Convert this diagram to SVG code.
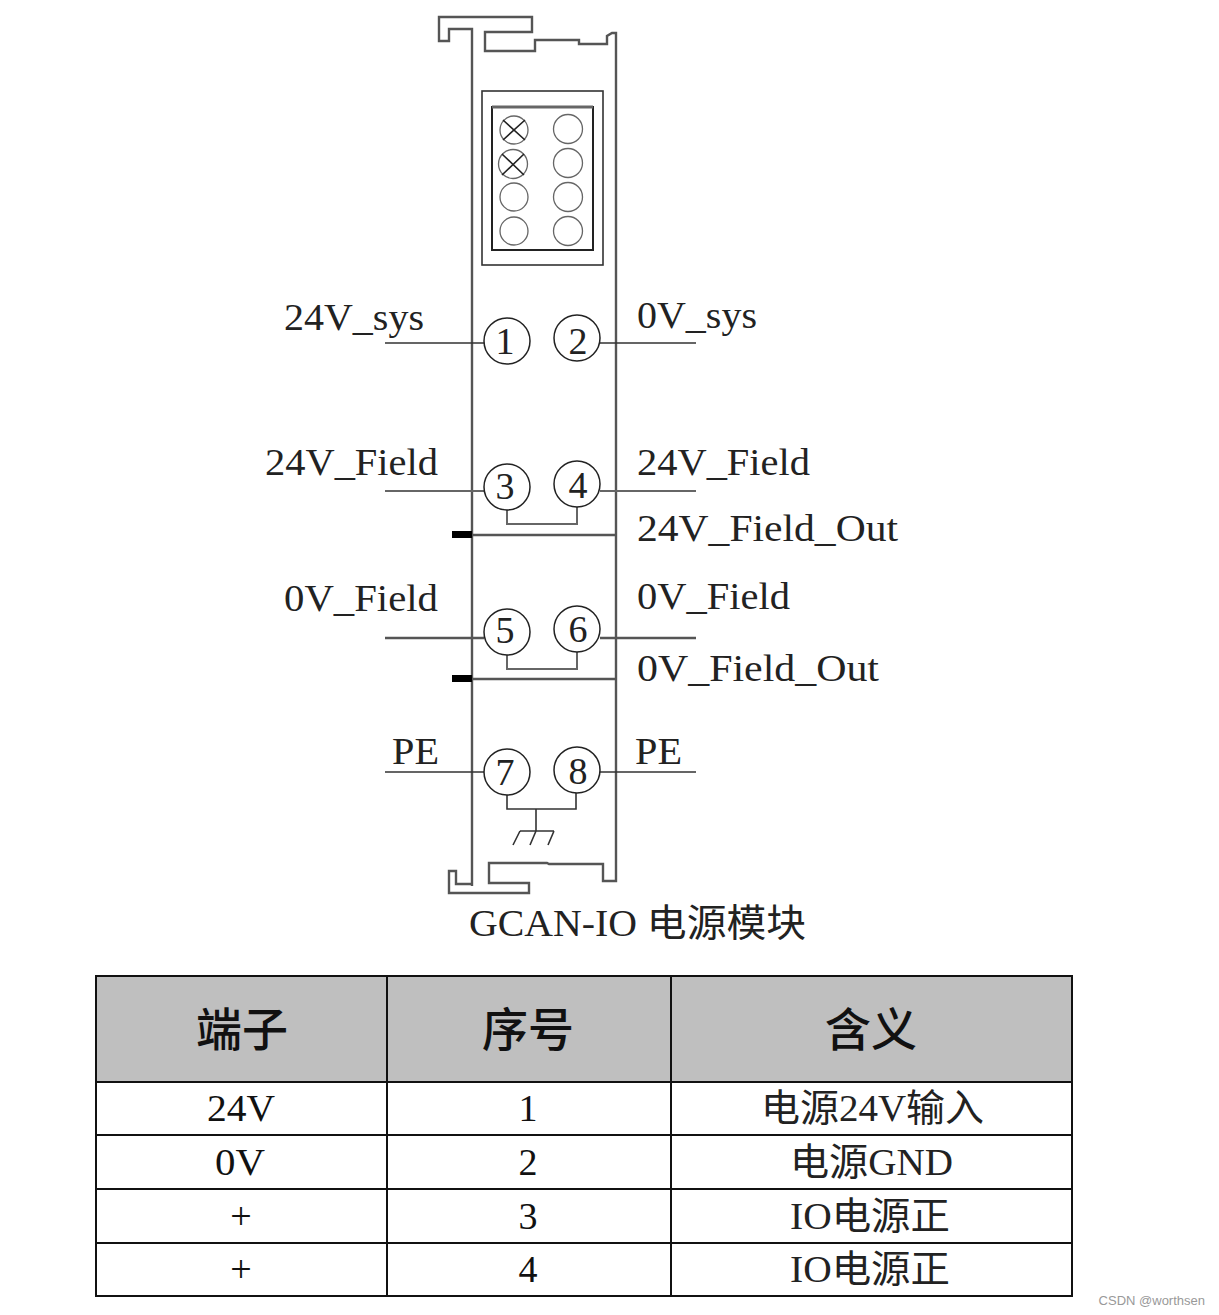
<svg xmlns="http://www.w3.org/2000/svg" width="1219" height="1315" viewBox="0 0 1219 1315">
<style>
.l{fill:none;stroke:#333;stroke-width:1.6}
.m{fill:none;stroke:#666;stroke-width:2}
.g{fill:none;stroke:#555;stroke-width:2.4}
.k{fill:none;stroke:#222;stroke-width:1.6}
.led{fill:none;stroke:#666;stroke-width:1.3}
.pin{fill:#fff;stroke:#222;stroke-width:1.5}
.t{font-family:"Liberation Serif","Noto Sans CJK SC",serif;fill:#222}
.lab{font-size:38px}
.num{font-size:38px;text-anchor:middle}
.c{font-size:38px;text-anchor:middle;fill:#111}
.h{font-size:46px;font-weight:500;text-anchor:middle;fill:#111;font-family:"Noto Sans CJK SC",sans-serif}
</style>
<rect width="1219" height="1315" fill="#fff"/>
<g id="module-body">
<path class="g" d="M472 886V29H449V41H439V17H532V32H485V51H535V40H579V44H607V36L612 33H616V881H603V864H549L547 863H489V883H529V893H449V871H456V884H472"/>
<rect class="l" x="482" y="91" width="121" height="174"/>
<path d="M492 107H593V250H492Z" fill="none" stroke="#222" stroke-width="2"/>
<path d="M492 107H593" stroke="#666" stroke-width="3"/>
</g>
<g id="leds">
<circle class="led" cx="514" cy="130" r="14"/><path class="k" d="M503 120L525 140M525 120L503 140"/>
<circle class="led" cx="513" cy="164" r="14.500"/><path class="k" d="M502 154L524 175M524 154L502 175"/>
<circle class="led" cx="514" cy="197" r="14"/><circle class="led" cx="514" cy="231" r="14"/>
<circle class="led" cx="568" cy="129" r="14.500"/><circle class="led" cx="568" cy="163" r="14.500"/><circle class="led" cx="568" cy="197" r="14.500"/><circle class="led" cx="568" cy="231" r="14.500"/>
</g>
<g id="connectors">
<path class="l" d="M385 343H484M600 343H696"/>
<path class="m" d="M385 491H484M600 491H696"/>
<path class="g" d="M385 638H484M600 638H696"/>
<path class="l" d="M385 772H484M600 772H696"/>
<path class="m" d="M507 510V524H577V507"/>
<path class="m" d="M507 655V669H577V652"/>
<path class="l" d="M507 795V809H576V793M536 809V831M520 831H554M520 831L513 845M536 831L530 845M554 831L548 845"/>
<path class="g" d="M472 535H615M472 679H615"/>
<path d="M452 531H472V538H452ZM452 675H472V682H452Z" fill="#000"/>
</g>
<g id="pin-1"><circle class="pin" cx="507" cy="341" r="23"/><text class="t num" x="505" y="354">1</text></g>
<g id="pin-2"><circle class="pin" cx="577" cy="338" r="23"/><text class="t num" x="578" y="354">2</text></g>
<g id="pin-3"><circle class="pin" cx="507" cy="487" r="23"/><text class="t num" x="505" y="499">3</text></g>
<g id="pin-4"><circle class="pin" cx="577" cy="484" r="23"/><text class="t num" x="578" y="498">4</text></g>
<g id="pin-5"><circle class="pin" cx="507" cy="632" r="23"/><text class="t num" x="505" y="643">5</text></g>
<g id="pin-6"><circle class="pin" cx="577" cy="629" r="23"/><text class="t num" x="578" y="642">6</text></g>
<g id="pin-7"><circle class="pin" cx="507" cy="772" r="23"/><text class="t num" x="505" y="785">7</text></g>
<g id="pin-8"><circle class="pin" cx="577" cy="770" r="23"/><text class="t num" x="578" y="784">8</text></g>
<g id="labels">
<text class="t lab" x="284" y="330" textLength="140" lengthAdjust="spacingAndGlyphs">24V_sys</text>
<text class="t lab" x="637" y="328" textLength="120" lengthAdjust="spacingAndGlyphs">0V_sys</text>
<text class="t lab" x="265" y="475" textLength="173" lengthAdjust="spacingAndGlyphs">24V_Field</text>
<text class="t lab" x="637" y="475" textLength="173" lengthAdjust="spacingAndGlyphs">24V_Field</text>
<text class="t lab" x="637" y="541" textLength="261" lengthAdjust="spacingAndGlyphs">24V_Field_Out</text>
<text class="t lab" x="284" y="611" textLength="154" lengthAdjust="spacingAndGlyphs">0V_Field</text>
<text class="t lab" x="637" y="609" textLength="153" lengthAdjust="spacingAndGlyphs">0V_Field</text>
<text class="t lab" x="637" y="681" textLength="242" lengthAdjust="spacingAndGlyphs">0V_Field_Out</text>
<text class="t lab" x="392" y="764" textLength="47" lengthAdjust="spacingAndGlyphs">PE</text>
<text class="t lab" x="635" y="764" textLength="47" lengthAdjust="spacingAndGlyphs">PE</text>
<text class="t" x="469" y="936" font-size="38px" fill="#111" textLength="337" lengthAdjust="spacingAndGlyphs">GCAN-IO 电源模块</text>
</g>
<g id="table">
<rect x="96" y="976" width="976" height="106" fill="#bfbfbf"/>
<path d="M96 976H1072V1296H96ZM96 1082H1072M96 1135H1072M96 1189H1072M96 1243H1072M387 976V1296M671 976V1296" fill="none" stroke="#111" stroke-width="2"/>
<text class="h" x="242" y="1046">端子</text><text class="h" x="528" y="1046">序号</text><text class="h" x="871" y="1046">含义</text>
<text class="t c" x="241" y="1121" textLength="68" lengthAdjust="spacingAndGlyphs">24V</text><text class="t c" x="528" y="1121">1</text><text class="t" x="761" y="1121" font-size="38px" fill="#111" textLength="223" lengthAdjust="spacingAndGlyphs">电源24V输入</text>
<text class="t c" x="240" y="1175" textLength="50" lengthAdjust="spacingAndGlyphs">0V</text><text class="t c" x="528" y="1175">2</text><text class="t" x="790" y="1175" font-size="38px" fill="#111" textLength="163" lengthAdjust="spacingAndGlyphs">电源GND</text>
<text class="t c" x="241" y="1229">+</text><text class="t c" x="528" y="1229">3</text><text class="t" x="790" y="1229" font-size="38px" fill="#111" textLength="160" lengthAdjust="spacingAndGlyphs">IO电源正</text>
<text class="t c" x="241" y="1282">+</text><text class="t c" x="528" y="1282">4</text><text class="t" x="790" y="1282" font-size="38px" fill="#111" textLength="160" lengthAdjust="spacingAndGlyphs">IO电源正</text>
</g>
<text x="1205" y="1305" text-anchor="end" font-family="Liberation Sans,sans-serif" font-size="13px" fill="#999">CSDN @worthsen</text>
</svg>
